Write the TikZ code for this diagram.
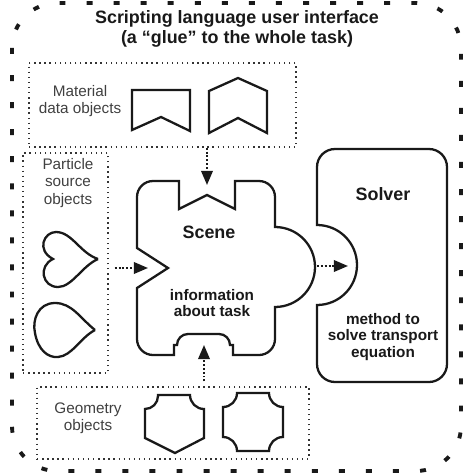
\documentclass[tikz,border=0pt]{standalone}
\usepackage{fontspec}
\setmainfont{Liberation Sans}
\usetikzlibrary{arrows.meta,fit,positioning}
\tikzset{
  part/.style={draw=black!90, line width=1.3pt},
  dotbox/.style={draw=black!80, line width=0.8pt, dash pattern=on 0.8pt off 2.1pt, inner sep=0pt},
  flow/.style={draw=black!90, line width=1.2pt, dash pattern=on 1.1pt off 1.1pt, -{Triangle[length=8pt,width=6.5pt]}},
  lbl/.style={font=\fontsize{8.7}{9.8}\selectfont, text=black!75, align=center, inner sep=0pt},
  blbl/.style={font=\fontsize{8.7}{9.6}\selectfont\bfseries, text=black!90, align=center, inner sep=0pt},
  hlbl/.style={font=\fontsize{10.2}{11.4}\selectfont\bfseries, text=black!90, align=center, inner sep=0pt}
}
\begin{document}
\begin{tikzpicture}[x=0.02cm, y=-0.02cm]
		\useasboundingbox (0,0) rectangle (474,474);
		\draw[black!90, line width=2.2pt, dash pattern=on 3.4pt off 12pt, rounded corners=0.9cm] (12,3) rectangle (461,471);
		\node[hlbl] (title) at (237,29) {Scripting language user interface\\(a \textquotedblleft glue\textquotedblright\ to the whole task)};
		\node[dotbox, fit={(29,63) (296,147)}] (matbox) {};
		\node[dotbox, fit={(23,153) (108,373)}] (partbox) {};
		\node[dotbox, fit={(37,387) (309,459)}] (geobox) {};
		\node[lbl] (matlbl) at (80,101) {Material\\data objects};
		\node[lbl] (partlbl) at (68,183) {Particle\\source\\objects};
		\node[lbl] (geolbl) at (88,418) {Geometry\\objects};
		\draw[part] (132,90)--(190,90)--(190,131)--(161,117)--(132,130)--cycle;
		\draw[part] (238,78)--(267,91)--(267,133)--(238,118)--(209,133)--(209,91)--cycle;
		\draw[part] (98,259) .. controls (80,253) and (72,232) .. (56,232) .. controls (44,232) and (36,250) .. (53,259)
			.. controls (38,266) and (42,287) .. (58,287) .. controls (72,287) and (82,266) .. (98,259);
		\draw[part] (95,330) .. controls (80,318) and (72,303) .. (55,303) .. controls (38,303) and (32,320) .. (35,333)
			.. controls (38,350) and (48,358) .. (58,357) .. controls (72,356) and (80,338) .. (95,330);
		\draw[part] (158,395)--(190,395) arc[start angle=180, end angle=90, radius=14]--(204,438)--(175,453)--(145,438)--(145,409)
			arc[start angle=90, end angle=0, radius=13]--cycle;
		\draw[part] (237,393)--(269,393) arc[start angle=180, end angle=90, radius=14]--(283,437)
			arc[start angle=270, end angle=180, radius=14]--(237,451) arc[start angle=0, end angle=-90, radius=14]--(223,407)
			arc[start angle=90, end angle=0, radius=14]--cycle;
		\draw[part] (153,181)--(179,181)--(179,209)--(207,195)--(235,209)--(235,181)--(259,181)
			arc[start angle=270, end angle=360, radius=16]--(275,227)
			arc[start angle=270, end angle=450, radius=40]--(275,339)
			arc[start angle=0, end angle=90, radius=16]--(233,355)--(233,345)--(230,345)
			arc[start angle=0, end angle=-90, radius=11]--(188,334)
			arc[start angle=270, end angle=180, radius=11]--(174,345)--(174,355)--(153,355)
			arc[start angle=90, end angle=180, radius=16]--(137,288)--(168,268)--(137,248)--(137,197)
			arc[start angle=180, end angle=270, radius=16]--cycle;
		\draw[part] (336,149)--(429,149) arc[start angle=270, end angle=360, radius=18]--(447,364)
			arc[start angle=0, end angle=90, radius=18]--(335,382)
			arc[start angle=90, end angle=180, radius=18]--(317,305)
			arc[start angle=90, end angle=-90, radius=40]--(317,167)
			arc[start angle=180, end angle=270, radius=18]--cycle;
		\node[hlbl] (scene) at (209,232) {Scene};
		\node[blbl] (info) at (212,303) {information\\about task};
		\node[hlbl] (solver) at (383,194) {Solver};
		\node[blbl] (method) at (383,337) {method to\\solve transport\\equation};
		\coordinate (mattip) at (207,185);
		\coordinate (parttip) at (148,268);
		\coordinate (geotip) at (204,345);
		\coordinate (scenetail) at (317,266);
		\coordinate (solvertip) at (348,266);
		\draw[flow] (matbox.south -| mattip)--(mattip);
		\draw[flow] (partbox.east |- parttip)++(6,0)--(parttip);
		\draw[flow] (geobox.north -| geotip)++(0,-5)--(geotip);
		\draw[flow] (scenetail)--(solvertip);
		\end{tikzpicture}
\end{document}
